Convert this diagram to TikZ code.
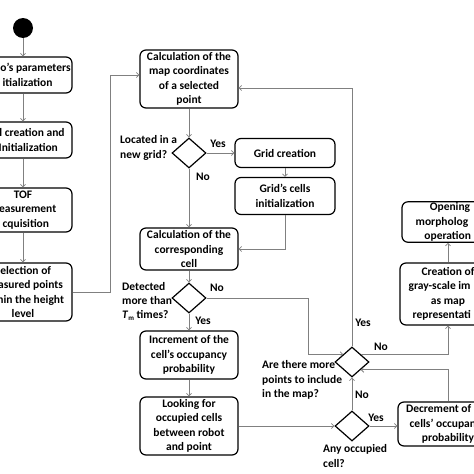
\documentclass[tikz,border=0pt]{standalone}
\usepackage{fontspec}
\setmainfont{Carlito}
\usepackage{tikz}
\usetikzlibrary{shapes.geometric, arrows.meta, calc}
\newcommand{\testo}{\fontsize{11.5}{14.3}\selectfont\bfseries}
\newcommand{\Tm}{\textit{T}\raisebox{-0.25ex}{\scriptsize m}}

\begin{document}
\begin{tikzpicture}[x = 1pt, y = -1pt,
    blocco/.style = {draw, line width = 1.2pt, rounded corners = 6pt, align = center, font = \testo, inner sep = 1pt},
    decisione/.style = {diamond, draw, line width = 1.2pt, minimum width = 34pt, minimum height = 30pt, inner sep = 0pt},
    freccia/.style = {draw = gray, line width = 0.8pt, -{Straight Barb[length = 2.5pt, width = 5pt]}},
    etichetta/.style = {font = \testo, inner sep = 0pt, align = left}]
    % cornice
    \useasboundingbox (0,0) rectangle (474,474);
    \clip (0,0) rectangle (474,474);
    % inizio
    \node[circle, fill, minimum size = 20pt, inner sep = 0pt] (inizio) at (23,28) {};
    % colonna sinistra
    \node[blocco, minimum width = 98pt, minimum height = 36pt] (parametri) at (23,75) {\hspace*{25pt}o's parameters\\\phantom{in}itialization};
    \node[blocco, minimum width = 98pt, minimum height = 36pt] (griglia) at (23,140) {\hspace*{18pt}l creation and\\\phantom{xx}Initialization};
    \node[blocco, minimum width = 98pt, minimum height = 44pt] (tof) at (23,210) {TOF\\\phantom{m}easurement\\\phantom{a}cquisition};
    \node[blocco, minimum width = 98pt, minimum height = 58pt] (selezione) at (23,292) {\phantom{S}election of\\\phantom{me}asured points\\\phantom{wit}hin the height\\level};
    % colonna centrale
    \node[blocco, minimum width = 98pt, minimum height = 58pt] (coordinate) at (189,79) {Calculation of the\\map coordinates\\of a selected\\point};
    \node[decisione] (nuova) at (189,153) {};
    \node[blocco, minimum width = 100pt, minimum height = 29pt] (creagriglia) at (285,153) {Grid creation};
    \node[blocco, minimum width = 100pt, minimum height = 37pt] (initcelle) at (285,196) {Grid's cells\\initialization};
    \node[blocco, minimum width = 98pt, minimum height = 42pt] (cella) at (189,249) {Calculation of the\\corresponding\\cell};
    \node[decisione] (rilevato) at (189,298) {};
    \node[blocco, minimum width = 98pt, minimum height = 48pt] (incremento) at (189,355) {Increment of the\\cell's occupancy\\probability};
    \node[blocco, minimum width = 98pt, minimum height = 58pt] (ricerca) at (189,426) {Looking for\\occupied cells\\between robot\\and point};
    % colonna destra
    \node[decisione] (altri) at (352,362) {};
    \node[decisione] (occupate) at (352,426) {};
    \node[blocco, minimum width = 100pt, minimum height = 44pt] (decremento) at (448,424) {Decrement of\phantom{ the}\\cells' occupan\phantom{cy}\\probability};
    \node[blocco, minimum width = 96pt, minimum height = 62pt] (immagine) at (448,294) {Creation of\\gray-scale im\phantom{age}\\as map\\representati\phantom{on}};
    \node[blocco, minimum width = 96pt, minimum height = 40pt] (apertura) at (450,222) {Opening\\morpholog\phantom{ical}\\operation\phantom{s}};
    % frecce
    \draw[freccia] (inizio) -- (parametri);
    \draw[freccia] (parametri) -- (griglia);
    \draw[freccia] (griglia) -- (tof);
    \draw[freccia] (tof) -- (selezione);
    \draw[freccia] (selezione.east) -- ++(38,0) |- ($(coordinate.west)+(0,-4)$);
    \draw[freccia] (coordinate) -- (nuova);
    \draw[freccia] (nuova) -- (creagriglia);
    \draw[freccia] (nuova) -- (cella);
    \draw[freccia] (creagriglia) -- (initcelle);
    \draw[freccia] (initcelle.south) |- (cella.east);
    \draw[freccia] (cella) -- (rilevato);
    \draw[freccia] (rilevato) -- (incremento);
    \draw[freccia] (rilevato.east) -- ++(102,0) |- (altri.north west);
    \draw[freccia] (incremento) -- (ricerca);
    \draw[freccia] (ricerca.east) -- (occupate.west);
    \draw[freccia] (occupate) -- (altri);
    \draw[freccia] (occupate.east) -- (occupate.east -| decremento.west);
    \draw[freccia] (decremento.north) |- (altri.south east);
    \draw[freccia] (altri.north east) -| (immagine.south);
    \draw[freccia] (immagine.north) -- (immagine.north |- apertura.south);
    \draw[freccia] (altri.north) |- ($(coordinate.east)+(0,9)$);
    % etichette
    \node[etichetta, anchor = west] at (120,148) {Located in a\\new grid?};
    \node[etichetta] at (218,144) {Yes};
    \node[etichetta] at (203,177) {No};
    \node[etichetta, anchor = west] at (122,301) {Detected\\more than\\\Tm{} times?};
    \node[etichetta] at (217,288) {No};
    \node[etichetta] at (203,321) {Yes};
    \node[etichetta] at (363,323) {Yes};
    \node[etichetta] at (381,347) {No};
    \node[etichetta, anchor = west] at (262,380) {Are there more\\points to include\\in the map?};
    \node[etichetta] at (362,395) {No};
    \node[etichetta] at (376,418) {Yes};
    \node[etichetta, anchor = west] at (323,456) {Any occupied\\cell?};
\end{tikzpicture}
\end{document}
